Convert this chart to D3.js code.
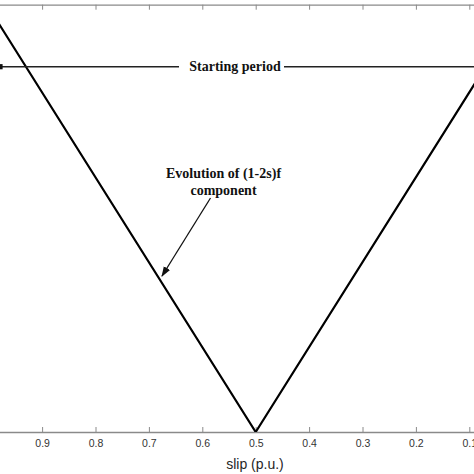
<!DOCTYPE html>
<html>
<head>
<meta charset="utf-8">
<script src="https://cdn.jsdelivr.net/npm/d3@7"></script>
<style>
  body { margin: 0; background: #fff; }
  svg { display: block; }
</style>
</head>
<body>
<div id="container"></div>
<script>
// V curve of the (1-2s)f component
const slip = [1, 0.5, 0];
const level = [1, 0, 1];
const xTicks = [0.9, 0.8, 0.7, 0.6, 0.5, 0.4, 0.3, 0.2, 0.1];
const xLabel = "slip (p.u.)";
const startLabel = "Starting period";
const noteLines = ["Evolution of (1-2s)f", "component"];

const w = 474;
const h = 474;
const plotTop = 4.7;
const plotBottom = 432;

const x = d3.scaleLinear().domain([1, 0]).range([-11.3, 522.7]);
const y = d3.scaleLinear().domain([0, 1]).range([plotBottom, 7.5]);

const svg = d3.select("#container")
  .append("svg")
  .attr("width", w)
  .attr("height", h);

const defs = svg.append("defs");

defs.append("clipPath")
  .attr("id", "plot")
  .append("rect")
  .attr("x", 0)
  .attr("y", plotTop)
  .attr("width", w)
  .attr("height", plotBottom - plotTop);

defs.append("marker")
  .attr("id", "head")
  .attr("viewBox", "0 0 10 10")
  .attr("refX", 9)
  .attr("refY", 5)
  .attr("markerWidth", 8)
  .attr("markerHeight", 8)
  .attr("orient", "auto")
  .append("path")
  .attr("d", "M0,1.5 L10,5 L0,8.5 Z")
  .attr("fill", "#111");

// axes
const xAxis = svg.append("g")
  .attr("transform", `translate(0,${plotBottom})`)
  .call(d3.axisBottom(x).tickValues(xTicks).tickFormat(d3.format(".1f"))
    .tickSizeInner(-5).tickSizeOuter(0).tickPadding(7.5));

const xTop = svg.append("g")
  .attr("transform", `translate(0,${plotTop})`)
  .call(d3.axisTop(x).tickValues(xTicks).tickFormat("")
    .tickSizeInner(-5).tickSizeOuter(0));

[xAxis, xTop].forEach(g => {
  g.select(".domain").attr("stroke", "#8a8a8a").attr("stroke-width", 1.3);
  g.selectAll(".tick line").attr("stroke", "#8a8a8a");
  g.selectAll("text")
    .attr("fill", "#333")
    .style("font", "10.5px 'Liberation Sans', Arial, sans-serif");
});

svg.append("text")
  .attr("x", 255)
  .attr("y", 469)
  .attr("text-anchor", "middle")
  .attr("fill", "#262626")
  .style("font", "14px 'Liberation Sans', Arial, sans-serif")
  .text(xLabel);

// curve
const line = d3.line()
  .x((d, i) => x(slip[i]))
  .y(d => y(d));

svg.append("path")
  .datum(level)
  .attr("clip-path", "url(#plot)")
  .attr("d", line)
  .attr("fill", "none")
  .attr("stroke", "#000")
  .attr("stroke-width", 2.2);

// starting period bracket
const sy = 66.7;
svg.append("line")
  .attr("x1", 0).attr("x2", 179)
  .attr("y1", sy).attr("y2", sy)
  .attr("stroke", "#222").attr("stroke-width", 1.5);
svg.append("line")
  .attr("x1", 284).attr("x2", w)
  .attr("y1", sy).attr("y2", sy)
  .attr("stroke", "#222").attr("stroke-width", 1.5);
svg.append("rect")
  .attr("x", 0).attr("y", sy - 2.6)
  .attr("width", 2.6).attr("height", 5.2)
  .attr("fill", "#111");

svg.append("text")
  .attr("x", 235)
  .attr("y", 71)
  .attr("text-anchor", "middle")
  .attr("fill", "#111")
  .style("font", "bold 14px 'Liberation Serif', 'Times New Roman', serif")
  .text(startLabel);

// annotation
svg.selectAll(".note")
  .data(noteLines)
  .enter()
  .append("text")
  .attr("class", "note")
  .attr("x", 223.5)
  .attr("y", (d, i) => 178 + i * 17)
  .attr("text-anchor", "middle")
  .attr("fill", "#111")
  .style("font", "bold 14px 'Liberation Serif', 'Times New Roman', serif")
  .text(d => d);

svg.append("line")
  .attr("x1", 210.5).attr("y1", 198)
  .attr("x2", 162).attr("y2", 276)
  .attr("stroke", "#111")
  .attr("stroke-width", 1.3)
  .attr("marker-end", "url(#head)");
</script>
</body>
</html>
